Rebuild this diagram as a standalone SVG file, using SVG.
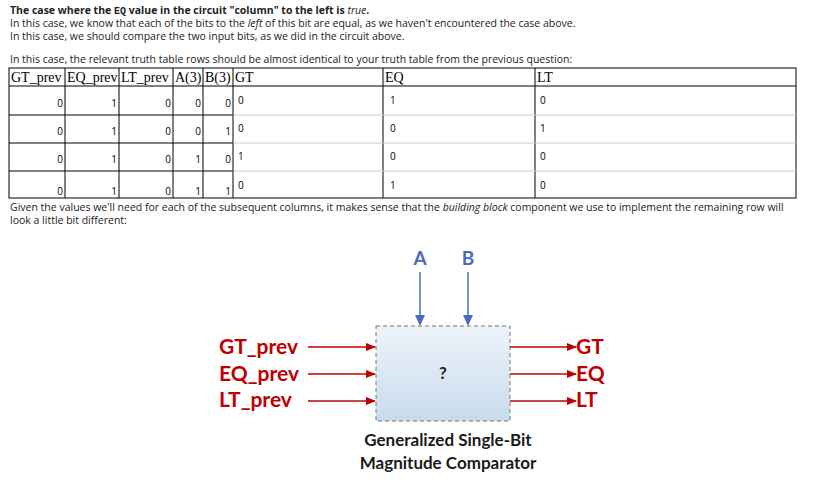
<svg xmlns="http://www.w3.org/2000/svg" width="818" height="503" viewBox="0 0 818 503">
<style>
.t{font-family:"Open Sans","DejaVu Sans",sans-serif;font-size:10.5px;fill:#222}
.h{font-family:"Liberation Serif",serif;font-size:14px;fill:#000}
.n{font-family:"Open Sans",sans-serif;font-size:10px;fill:#000}
.r{font-family:Lato,"Open Sans",sans-serif;font-weight:bold;font-size:21px;fill:#c00000}
.b{font-family:Lato,"Open Sans",sans-serif;font-weight:bold;font-size:19px;fill:#4a6cb8}
.c{font-family:Lato,"Open Sans",sans-serif;font-weight:bold;font-size:17px;fill:#1a1a1a;text-anchor:middle}
.tl{stroke:#000;stroke-width:1;fill:none}
.rl{stroke:#c00000;stroke-width:1.5;marker-end:url(#ar)}
</style>
<defs>
<marker id="ar" markerWidth="10" markerHeight="8" refX="9" refY="4" orient="auto" markerUnits="userSpaceOnUse"><path d="M0,0L10,4L0,8z" fill="#c00000"/></marker>
<linearGradient id="g" x1="0" y1="0" x2="0" y2="1"><stop offset="0" stop-color="#eef3f9"/><stop offset="1" stop-color="#c8dbec"/></linearGradient>
</defs>
<g id="text">
<text x="10" y="14" class="t" font-weight="bold">The case where the <tspan font-family="Liberation Mono" font-size="10">EQ</tspan> value in the circuit "column" to the left is <tspan font-weight="normal" font-style="italic">true</tspan>.</text>
<text x="10" y="27" class="t">In this case, we know that each of the bits to the <tspan font-style="italic">left</tspan> of this bit are equal, as we haven't encountered the case above.</text>
<text x="10" y="40" class="t">In this case, we should compare the two input bits, as we did in the circuit above.</text>
<text x="10" y="63" class="t">In this case, the relevant truth table rows should be almost identical to your truth table from the previous question:</text>
<text x="10" y="211" class="t">Given the values we'll need for each of the subsequent columns, it makes sense that the <tspan font-style="italic">building block</tspan> component we use to implement the remaining row will</text>
<text x="10" y="224" class="t">look a little bit different:</text>
</g>
<g id="table">
<rect x="9" y="68" width="787" height="130" class="tl"/>
<line x1="9" y1="86" x2="796" y2="86" class="tl"/>
<g stroke="#000" stroke-width="1"><line x1="65" y1="68" x2="65" y2="198"/><line x1="119" y1="68" x2="119" y2="198"/><line x1="173" y1="68" x2="173" y2="198"/><line x1="203" y1="68" x2="203" y2="198"/><line x1="233" y1="68" x2="233" y2="198"/><line x1="383" y1="68" x2="383" y2="198"/><line x1="535" y1="68" x2="535" y2="198"/>
<line x1="9" y1="115" x2="233" y2="115"/><line x1="9" y1="143" x2="233" y2="143"/><line x1="9" y1="171" x2="233" y2="171"/></g>
<g stroke="#ccc" stroke-width="1"><line x1="233" y1="115" x2="796" y2="115"/><line x1="233" y1="143" x2="796" y2="143"/><line x1="233" y1="171" x2="796" y2="171"/></g>
<text class="h" y="82"><tspan x="11">GT_prev</tspan><tspan x="67">EQ_prev</tspan><tspan x="121">LT_prev</tspan><tspan x="175">A(3)</tspan><tspan x="205">B(3)</tspan><tspan x="235">GT</tspan><tspan x="385">EQ</tspan><tspan x="537">LT</tspan></text>
<g class="n" text-anchor="end">
<text y="107"><tspan x="63">0</tspan><tspan x="117">1</tspan><tspan x="171">0</tspan><tspan x="201">0</tspan><tspan x="231">0</tspan></text>
<text y="135"><tspan x="63">0</tspan><tspan x="117">1</tspan><tspan x="171">0</tspan><tspan x="201">0</tspan><tspan x="231">1</tspan></text>
<text y="163"><tspan x="63">0</tspan><tspan x="117">1</tspan><tspan x="171">0</tspan><tspan x="201">1</tspan><tspan x="231">0</tspan></text>
<text y="195"><tspan x="63">0</tspan><tspan x="117">1</tspan><tspan x="171">0</tspan><tspan x="201">1</tspan><tspan x="231">1</tspan></text>
</g>
<g class="n">
<text y="104"><tspan x="238">0</tspan><tspan x="390">1</tspan><tspan x="540">0</tspan></text>
<text y="132"><tspan x="238">0</tspan><tspan x="390">0</tspan><tspan x="540">1</tspan></text>
<text y="160"><tspan x="238">1</tspan><tspan x="390">0</tspan><tspan x="540">0</tspan></text>
<text y="189"><tspan x="238">0</tspan><tspan x="390">1</tspan><tspan x="540">0</tspan></text>
</g>
</g>
<g id="comparator">
<rect x="376" y="326" width="134" height="95" fill="url(#g)" stroke="#777" stroke-dasharray="4,3"/>
<text x="443" y="379" class="c" font-size="12">?</text>
<text x="448" y="446" class="c">Generalized Single-Bit</text>
<text x="448" y="469" class="c">Magnitude Comparator</text>
</g>
<g id="labels">
<text x="420" y="265" class="b" text-anchor="middle">A</text>
<text x="468" y="265" class="b" text-anchor="middle">B</text>
<text x="219" y="354" class="r">GT_prev</text>
<text x="219" y="381" class="r">EQ_prev</text>
<text x="219" y="407" class="r">LT_prev</text>
<text x="576" y="354" class="r">GT</text>
<text x="576" y="381" class="r">EQ</text>
<text x="576" y="407" class="r">LT</text>
</g>
<g id="connectors">
<line x1="308" y1="347" x2="375" y2="347" class="rl"/>
<line x1="308" y1="374" x2="375" y2="374" class="rl"/>
<line x1="308" y1="401" x2="375" y2="401" class="rl"/>
<line x1="510" y1="347" x2="576" y2="347" class="rl"/>
<line x1="510" y1="374" x2="576" y2="374" class="rl"/>
<line x1="510" y1="401" x2="576" y2="401" class="rl"/>
<line x1="420" y1="272" x2="420" y2="316" stroke="#5070c0" stroke-width="1.5"/>
<path d="M415,315L425,315L420,326z" fill="#4a6cb8"/>
<line x1="468" y1="272" x2="468" y2="316" stroke="#5070c0" stroke-width="1.5"/>
<path d="M463,315L473,315L468,326z" fill="#4a6cb8"/>
</g>
</svg>
